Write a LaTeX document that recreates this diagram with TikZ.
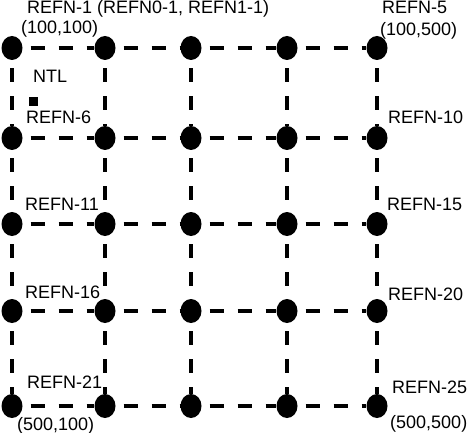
\documentclass[tikz,border=0pt]{standalone}
\usepackage{fontspec}
\setmainfont{Liberation Sans}
\usetikzlibrary{shapes.geometric}

\begin{document}
\begin{tikzpicture}[
  x=1pt,y=-1pt,
  dot/.style={ellipse,fill=black,minimum width=21pt,minimum height=24pt,inner sep=0pt},
  link/.style={line width=4pt,dash pattern=on 14pt off 14pt,dash phase=20pt},
  lbl/.style={anchor=base west,inner sep=0pt,font=\fontsize{18}{18}\selectfont},
]
  \useasboundingbox (0,0) rectangle (474,433);
  % grid points REFN-1 .. REFN-25
  \foreach \y [count=\r] in {48,138,224,311,406}
    \foreach \x [count=\c] in {12,105,191,287,377}
      \node[dot] (n-\r-\c) at (\x,\y) {};
  \foreach \r in {1,...,5}
    \foreach \c/\d in {1/2,2/3,3/4,4/5}
      \draw[link] (n-\r-\c) -- (n-\r-\d);
  \foreach \c in {1,...,5}
    \foreach \r/\s in {1/2,2/3,3/4,4/5}
      \draw[link] (n-\r-\c) -- (n-\s-\c);
  % labels
  \node[lbl] (l1)  at (27,14)  {REFN-1 (REFN0-1, REFN1-1)};
  \node[lbl] (p1)  at (21,34)  {(100,100)};
  \node[lbl] (l5)  at (382,14) {REFN-5};
  \node[lbl] (p5)  at (380,36) {(100,500)};
  \node[lbl] (ntl) at (33,83)  {NTL};
  \node[fill=black,minimum size=9pt,inner sep=0pt] (sq) at (33,102) {};
  \node[lbl] (l6)  at (26,124) {REFN-6};
  \node[lbl] (l10) at (388,124) {REFN-10};
  \node[lbl] (l11) at (25,210) {REFN-11};
  \node[lbl] (l15) at (387,211) {REFN-15};
  \node[lbl] (l16) at (25,298) {REFN-16};
  \node[lbl] (l20) at (388,300) {REFN-20};
  \node[lbl] (l21) at (27,388) {REFN-21};
  \node[lbl] (l25) at (392,393) {REFN-25};
  \node[lbl] (p21) at (17,430) {(500,100)};
  \node[lbl] (p25) at (390,428) {(500,500)};
\end{tikzpicture}
\end{document}
